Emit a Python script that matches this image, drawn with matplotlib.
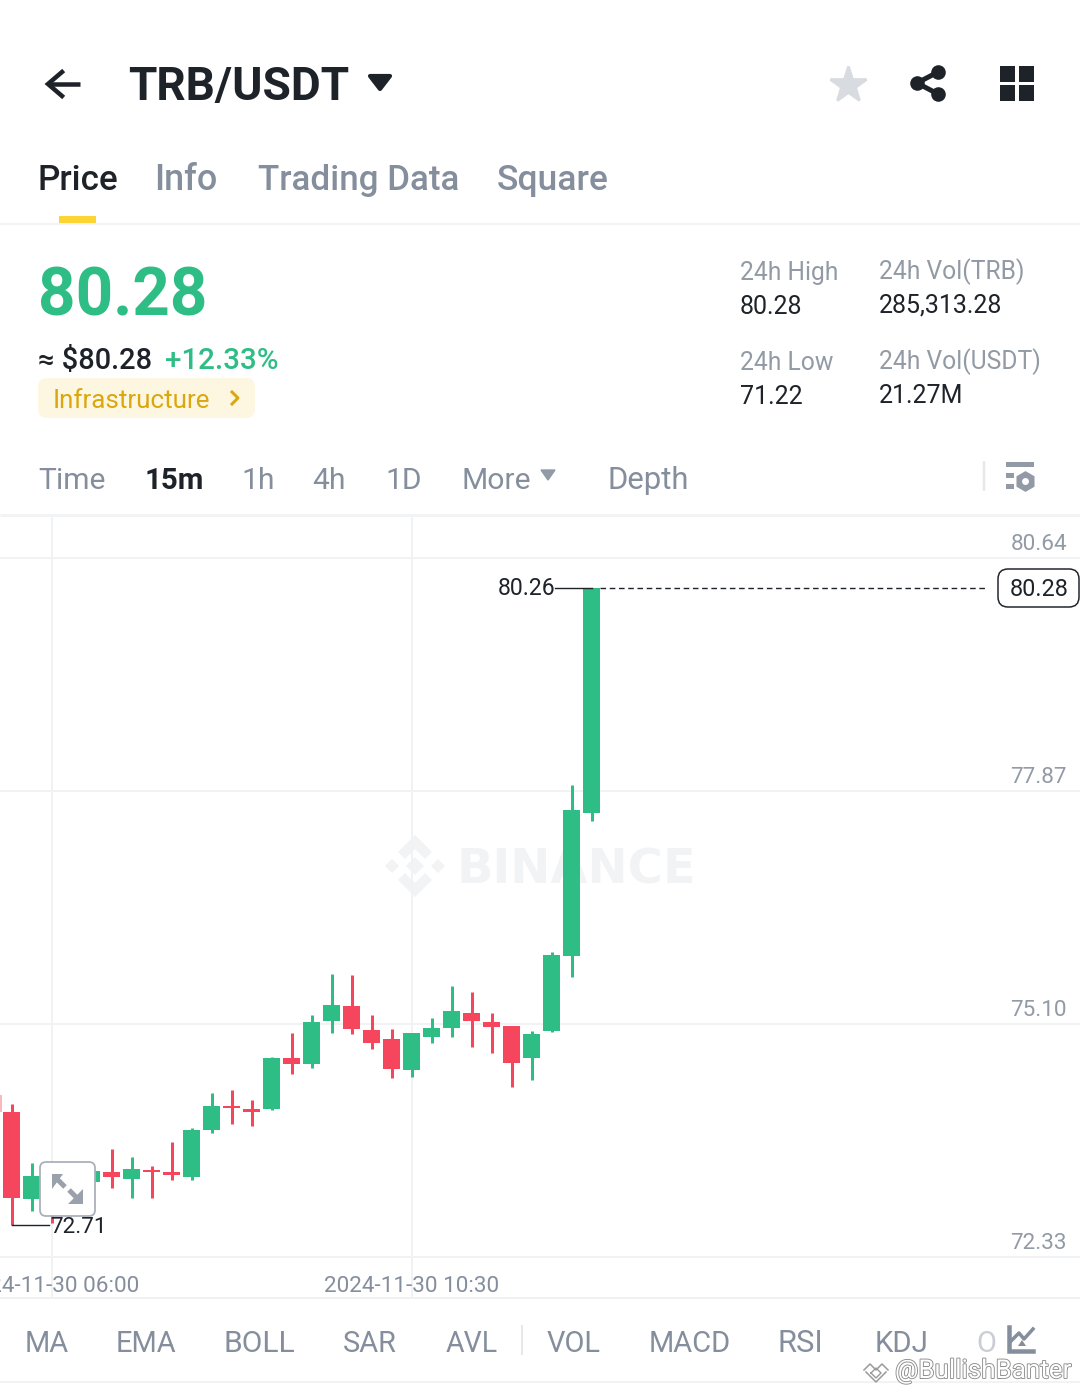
import matplotlib
matplotlib.use("Agg")
import matplotlib.pyplot as plt
import matplotlib.patheffects as pe
from matplotlib.patches import FancyBboxPatch, Rectangle, Polygon
from matplotlib.transforms import ScaledTranslation

plt.rcParams['font.family'] = ['Roboto', 'DejaVu Sans']

# ---------- data ----------
highs  = [74.15,73.45,73.39,73.42,73.42,73.61,73.52,73.41,73.70,73.86,74.28,74.32,74.20,74.71,74.99,75.21,
          75.70,75.68,75.21,75.04,74.99,75.17,75.55,75.48,75.23,75.08,75.02,75.96,77.94,80.28]
tops   = [74.05,73.29,73.31,73.36,73.35,73.34,73.38,73.36,73.34,73.84,74.13,74.13,74.09,74.70,74.70,75.12,
          75.33,75.31,75.03,74.92,74.99,75.05,75.25,75.23,75.12,75.08,74.98,75.92,77.64,80.28]
bottoms= [73.03,73.02,73.13,73.19,73.22,73.28,73.26,73.34,73.31,73.28,73.84,74.10,74.05,74.09,74.63,74.63,
          75.14,75.04,74.87,74.57,74.55,74.95,75.05,75.14,75.06,74.64,74.70,75.02,75.91,77.61]
lows   = [72.71,72.88,72.73,73.13,73.17,73.15,73.03,73.03,73.25,73.25,73.80,73.91,73.89,74.08,74.51,74.58,
          74.99,74.98,74.80,74.46,74.47,74.87,74.95,74.83,74.76,74.35,74.43,75.00,75.66,77.51]
rising = [0,1,0,1,1,0,1,0,0,1,1,0,0,1,0,1,1,0,0,0,1,1,1,0,0,0,1,1,1,1]
price_ticks = [80.64, 77.87, 75.10, 72.33]
time_tick_pos = [2, 20]
time_tick_labels = ['2024-11-30 06:00', '2024-11-30 10:30']
last_price = 80.28
max_label = 80.26
min_label = 72.71

# ---------- palette ----------
GREEN, RED = '#2ebd85', '#f6465d'
DARK, GRAY, GRID = '#1e2329', '#848e9c', '#f1f2f4'
LIGHT = '#929aa5'
WM = '#f2f3f5'

PX = 0.72  # one pixel in points at dpi 100
W, H = 1080, 1392
fig = plt.figure(figsize=(W/100, H/100), dpi=100, facecolor='white')

# ---------- watermark, under the chart ----------
bg = fig.add_axes([0, 0, 1, 1], zorder=0)
bg.set_xlim(0, W); bg.set_ylim(H, 0); bg.axis('off')
bg.text(457, 884, 'BINANCE', fontsize=48*PX, fontweight='bold', color=WM, family='DejaVu Sans')
bg.add_patch(Polygon([(415, 857), (424, 866), (415, 875), (406, 866)], color=WM, lw=0))
bg.add_patch(Polygon([(385, 866), (392, 859), (399, 866), (392, 873)], color=WM, lw=0))
bg.add_patch(Polygon([(431, 866), (438, 859), (445, 866), (438, 873)], color=WM, lw=0))
bg.add_patch(Polygon([(415, 835), (432, 852), (425, 859), (415, 849), (405, 859), (398, 852)], color=WM, lw=0))
bg.add_patch(Polygon([(415, 897), (432, 880), (425, 873), (415, 883), (405, 873), (398, 880)], color=WM, lw=0))

# ---------- chart ----------
top_px, bot_px = 516, 1298
ax = fig.add_axes([0, 1-bot_px/H, 1, (bot_px-top_px)/H], zorder=1)
ax.set_facecolor('none')
per_px = (price_ticks[0]-price_ticks[-1])/(1257-558)
ax.set_ylim(price_ticks[0]-(bot_px-558)*per_px, price_ticks[0]+(558-top_px)*per_px)
ax.set_xlim(-0.585, 53.415)
for s in ax.spines.values():
    s.set_visible(False)
ax.set_yticks(price_ticks)
ax.set_xticks(time_tick_pos)
ax.set_xticklabels(time_tick_labels)
ax.grid(True, color=GRID, lw=2*PX)
ax.set_axisbelow(True)
ax.tick_params(axis='x', length=0, pad=-22*PX, labelsize=22.5*PX, labelcolor=GRAY)
ax.tick_params(axis='y', length=0, left=False, right=False, labelleft=False, labelright=True,
               pad=-13*PX, labelsize=22.5*PX, labelcolor=LIGHT)
ax.set_yticklabels([f'{v:.2f}' for v in price_ticks])
off = ScaledTranslation(0, 3/100, fig.dpi_scale_trans)
for lab in ax.get_yticklabels(which='major'):
    lab.set_ha('right'); lab.set_va('bottom')
    lab.set_transform(lab.get_transform() + off)

for i in range(len(highs)):
    c = GREEN if rising[i] else RED
    ax.vlines(i, lows[i], highs[i], color=c, lw=3*PX, zorder=3)
    ax.bar(i, tops[i]-bottoms[i], bottom=bottoms[i], width=0.85, color=c, zorder=4, lw=0)

i_max = highs.index(max(highs))
i_min = lows.index(min(lows))
ax.plot([i_max+0.4, 48.8], [last_price]*2, color=DARK, lw=1.4*PX, dashes=(4, 2.6), zorder=5)
ax.plot([i_max-1.85, i_max], [last_price]*2, color=DARK, lw=1.4*PX, zorder=5)
ax.plot([i_min, i_min+1.85], [min_label]*2, color=DARK, lw=1.4*PX, zorder=5)
ax.annotate(f'{max_label:.2f}', (i_max-1.82, last_price), textcoords='offset points', xytext=(0, 0),
            ha='right', va='center', fontsize=23*PX, color=DARK, zorder=6)
ax.annotate(f'{min_label:.2f}', (i_min+1.9, min_label), textcoords='offset points', xytext=(0, -1.5),
            ha='left', va='center', fontsize=22.5*PX, color=DARK, zorder=6)

# ---------- UI overlay in pixel space ----------
ui = fig.add_axes([0, 0, 1, 1], zorder=2)
ui.set_xlim(0, W); ui.set_ylim(H, 0); ui.axis('off'); ui.patch.set_alpha(0)

def T(x, y, s, size, color=DARK, weight='normal', ha='left', va='baseline', **kw):
    return ui.text(x, y, s, fontsize=size*PX, color=color, fontweight=weight, ha=ha, va=va, **kw)

def L(x0, x1, y0, y1, color, lw, **kw):
    ui.plot([x0, x1], [y0, y1], color=color, lw=lw*PX, solid_capstyle='butt', **kw)

# header
L(48, 80, 84, 84, DARK, 4.5)
ui.plot([62, 48, 62], [72, 84, 96], color=DARK, lw=4.5*PX, solid_joinstyle='miter')
T(128, 100, 'TRB/USDT', 46, weight='bold')
ui.add_patch(Polygon([(370, 76), (390, 76), (380, 89)], fc=DARK, ec=DARK, lw=3, joinstyle='round'))
ui.plot([847.5], [85], marker='*', ms=27, color='#d8dce1', mec='#d8dce1', mew=2, ls='none')
for p in [(938, 72), (938, 94)]:
    L(917, p[0], 83, p[1], DARK, 5)
    ui.plot(*p, marker='o', ms=10.5, color=DARK, mew=0)
ui.plot(917, 83, marker='o', ms=10.5, color=DARK, mew=0)
for x0, y0 in [(1000, 66), (1019, 66), (1000, 85), (1019, 85)]:
    ui.add_patch(Rectangle((x0, y0), 15, 15.5, color=DARK, lw=0))

# tabs
T(38, 190, 'Price', 35, weight='medium')
for x, s, z in [(154, 'Info', 36), (258, 'Trading Data', 35), (497, 'Square', 35.5)]:
    T(x, 190, s, z, color=GRAY, weight='medium')
ui.add_patch(Rectangle((59, 216), 37, 7, color='#fcd535', lw=0))
L(0, W, 223.5, 223.5, '#eef0f2', 1.5)

# price block
T(38, 315, '80.28', 65.5, color=GREEN, weight='bold')
T(38, 369, '≈ $80.28', 29, weight='medium')
T(165, 369, '+12.33%', 29.5, color=GREEN, weight='medium')
ui.add_patch(FancyBboxPatch((44, 384), 205, 28, boxstyle='round,pad=6,rounding_size=9', fc='#fdf6e1', ec='none'))
T(53, 408, 'Infrastructure', 26, color='#dba70f')
ui.plot([232, 238, 232], [392, 398, 404], color='#dba70f', lw=3*PX)

# stats
for x, y, s in [(740, 280, '24h High'), (879, 279, '24h Vol(TRB)'), (740, 370, '24h Low'), (879, 369, '24h Vol(USDT)')]:
    T(x, y, s, 24.6, color=LIGHT)
for x, y, s in [(740, 314, '80.28'), (879, 313, '285,313.28'), (740, 404, '71.22'), (879, 403, '21.27M')]:
    T(x, y, s, 25)

# interval bar
for x, s, z in [(38, 'Time', 30), (241, '1h', 30), (312, '4h', 30), (385, '1D', 30), (461, 'More', 30), (608, 'Depth', 31)]:
    T(x, 489, s, z, color=GRAY)
T(145, 489, '15m', 29.5, weight='bold')
ui.add_patch(Polygon([(541, 470), (555, 470), (548, 480)], fc=LIGHT, ec=LIGHT, lw=1))
L(983.5, 983.5, 461, 491, '#e6e8ea', 2.5)
ui.add_patch(Rectangle((1006, 462), 28, 4.5, color=LIGHT, lw=0))
ui.add_patch(Rectangle((1006, 473), 7.5, 5, color=LIGHT, lw=0))
ui.add_patch(Rectangle((1006, 484), 7.5, 5, color=LIGHT, lw=0))
ui.plot(1025, 481, marker='h', ms=15, color=LIGHT, mew=0)
ui.plot(1025, 481, marker='o', ms=5, color='white', mew=0)
L(0, W, 515, 515, '#f2f3f5', 3)
L(0, W, 1298, 1298, '#eef0f2', 2)

# last price pill
ui.add_patch(FancyBboxPatch((1003, 574), 71, 28, boxstyle='round,pad=5,rounding_size=10',
                            fc='white', ec=DARK, lw=1.5*PX))
T(1039, 589.5, f'{last_price:.2f}', 23.5, ha='center', va='center')

# sliver of the previous candle at the edge
L(0.5, 0.5, 1095, 1112, '#fbb7c0', 2)

# expand button
ui.add_patch(FancyBboxPatch((44, 1166), 47, 46, boxstyle='round,pad=4,rounding_size=6',
                            fc='white', ec='#aab0bb', lw=1.8*PX, zorder=5))
ARW = '#9aa1ab'
ui.add_patch(Polygon([(52, 1174), (63, 1174), (52, 1189)], color=ARW, lw=0, zorder=6))
ui.add_patch(Polygon([(83, 1204), (68, 1204), (83, 1189)], color=ARW, lw=0, zorder=6))
L(55, 65, 1177, 1187, ARW, 5, zorder=6)
L(69, 80, 1190, 1201, ARW, 5, zorder=6)

# indicators
for x, s, z in [(25, 'MA', 29), (116, 'EMA', 29), (224, 'BOLL', 30), (343, 'SAR', 29), (446, 'AVL', 28.5), (547, 'VOL', 29),
                (649, 'MACD', 29), (778, 'RSI', 31), (875, 'KDJ', 29.5)]:
    T(x, 1352, s, z, color=GRAY)
T(976, 1352, 'O', 29, color='#c9ced5')
L(521.5, 521.5, 1325, 1355, '#e6e8ea', 2)
ui.plot([1009, 1009, 1033], [1327, 1351, 1351], color=GRAY, lw=4.5*PX, solid_joinstyle='miter')
ui.plot([1011, 1019, 1024, 1033], [1341, 1333, 1339, 1329], color=GRAY, lw=3.5*PX)
ui.add_patch(Polygon([(1018, 1346), (1026, 1346), (1022, 1340)], color=GRAY, lw=0))
L(0, W, 1382, 1382, '#eef0f2', 1.5)

# credit
t = T(895, 1378, '@BullishBanter', 26, color='white')
t.set_path_effects([pe.withStroke(linewidth=1.3, foreground='#8d8d8d')])
ui.plot([864, 870, 876, 882, 888], [1370, 1364, 1370, 1364, 1370], color='#9a9a9a', lw=1.1)
ui.plot([866, 876, 886], [1372, 1382, 1372], color='#9a9a9a', lw=1.1)
ui.plot([871, 876, 881, 876, 871], [1373, 1368, 1373, 1378, 1373], color='#9a9a9a', lw=1.0)

fig.savefig('out.png', dpi=100, facecolor='white')
